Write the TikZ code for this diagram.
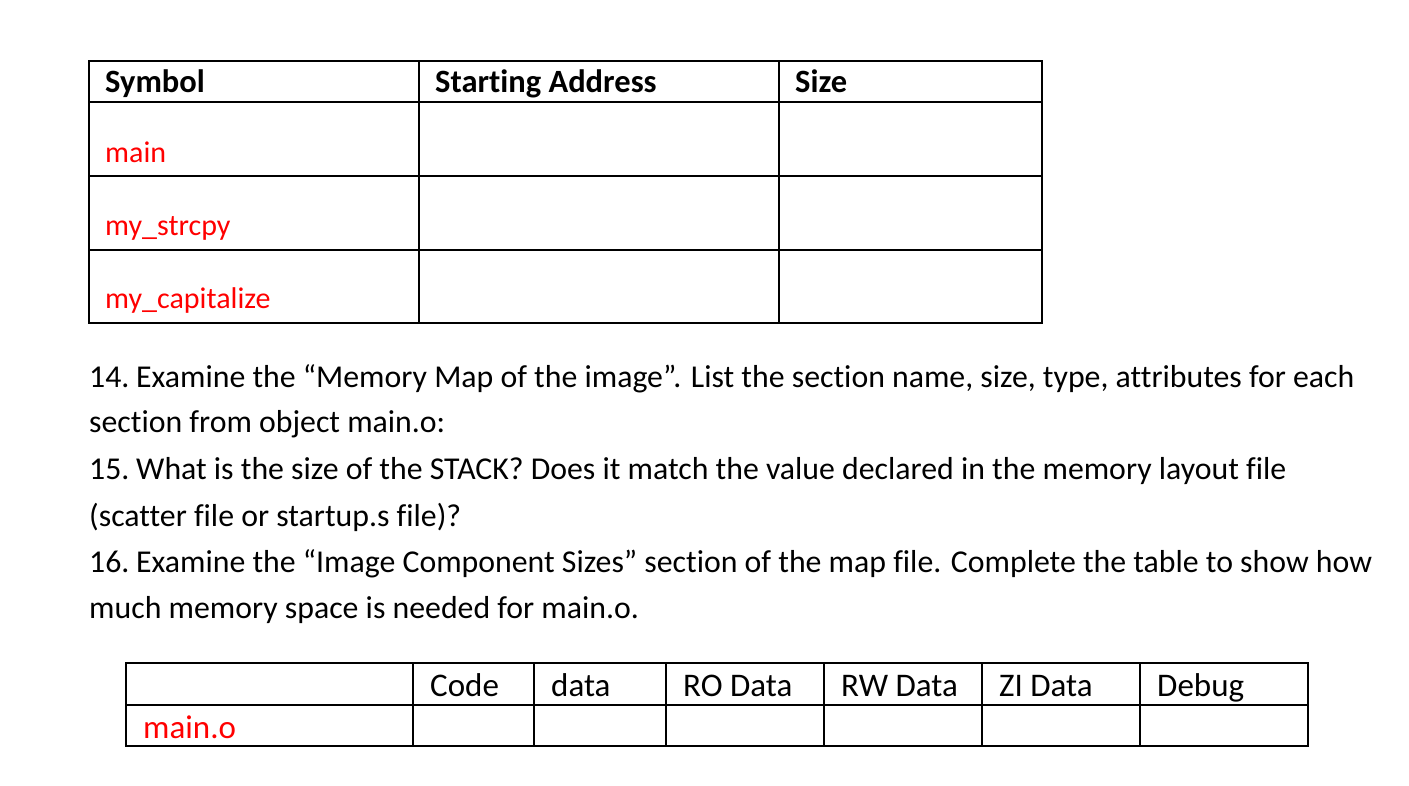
\documentclass[tikz,border=0pt]{standalone}
\usepackage{fontspec}
\setmainfont[RawFeature=-liga]{Carlito}
\begin{document}
\begin{tikzpicture}[x=1pt,y=-1pt,
  tl/.style={anchor=base west,inner sep=0pt},
  hd/.style={tl,font=\fontsize{32.5}{36}\selectfont\bfseries},
  rd/.style={tl,text=red,font=\fontsize{30}{36}\selectfont},
  bd/.style={tl,font=\fontsize{31.8}{38}\selectfont},
  cl/.style={tl,font=\fontsize{33}{38}\selectfont},
  grid/.style={line width=1.3pt}]
\useasboundingbox (0,0) rectangle (1409,786);
% table 1
\draw[grid] (89,61) rectangle (1042,323);
\foreach \y in {102,176,250} \draw[grid] (89,\y) -- (1042,\y);
\foreach \x in {419,779} \draw[grid] (\x,61) -- (\x,323);
\node[hd] (h1) at (105,93) {Symbol};
\node[hd] (h2) at (435,93) {Starting Address};
\node[hd] (h3) at (795,93) {Size};
\node[rd] (r1) at (105,163) {main};
\node[rd] (r2) at (105,236) {my\_strcpy};
\node[rd] (r3) at (105,309) {my\_capitalize};
% questions
\node[bd] (q14) at (89,388) {14.};
\node[bd] (t14a) at (136,388) {Examine the “Memory Map of the image”. List the section name, size, type, attributes for each};
\node[bd] (t14b) at (89,432) {section from object main.o:};
\node[bd] (q15) at (89,479) {15.};
\node[bd] (t15a) at (136,479) {What is the size of the STACK? Does it match the value declared in the memory layout file};
\node[bd] (t15b) at (89,526) {(scatter file or startup.s file)?};
\node[bd] (q16) at (89,572) {16.};
\node[bd] (t16a) at (136,572) {Examine the “Image Component Sizes” section of the map file. Complete the table to show how};
\node[bd] (t16b) at (89,618) {much memory space is needed for main.o.};
% table 2
\draw[grid] (126,663) rectangle (1308,746);
\draw[grid] (126,705) -- (1308,705);
\foreach \x in {413,534,666,824,982,1140} \draw[grid] (\x,663) -- (\x,746);
\node[cl] (c1) at (430,696) {Code};
\node[cl] (c2) at (551,696) {data};
\node[cl] (c3) at (683,696) {RO Data};
\node[cl] (c4) at (841,696) {RW Data};
\node[cl] (c5) at (999,696) {ZI Data};
\node[cl] (c6) at (1157,696) {Debug};
\node[cl,text=red] (m) at (143,738) {main.o};
\end{tikzpicture}
\end{document}
